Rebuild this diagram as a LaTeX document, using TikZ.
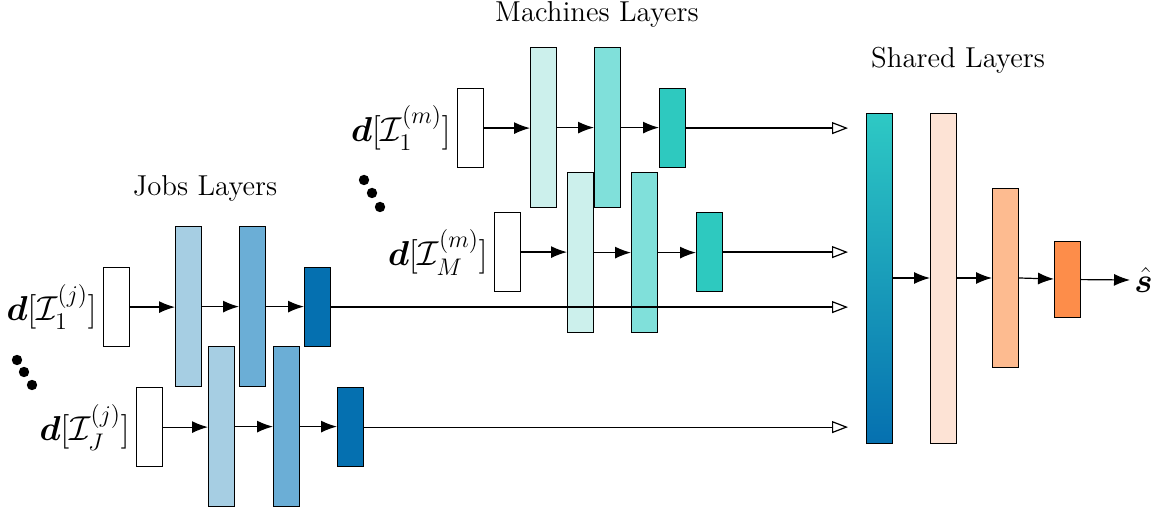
\documentclass[tikz,border=0pt]{standalone}
\usepackage{amsmath,bm}
\usetikzlibrary{arrows.meta}
\begin{document}
\begin{tikzpicture}[x=0.5pt,y=-0.5pt,
  box/.style={draw,line width=0.6pt,anchor=north west,inner sep=0,minimum width=13pt},
  ar/.style={-{Latex[length=8pt,width=6pt]},line width=0.6pt},
  oa/.style={-{Triangle[open,length=8pt,width=6pt]},line width=0.6pt},
  lab/.style={font=\LARGE,inner sep=3pt},
  ttl/.style={font=\Large}]
\useasboundingbox (0,0) rectangle (1154,512);
\definecolor{jA}{HTML}{A6CEE3}\definecolor{jB}{HTML}{6BAED6}\definecolor{jC}{HTML}{0570B0}
\definecolor{mA}{HTML}{CCF0EC}\definecolor{mB}{HTML}{80E0DA}\definecolor{mC}{HTML}{2EC9BF}
\definecolor{sT}{HTML}{2EC9C4}\definecolor{sB}{HTML}{0570B0}
\definecolor{sA}{HTML}{FDE3D5}\definecolor{sC}{HTML}{FDBB90}\definecolor{sD}{HTML}{FD8D4A}
\newcommand{\bx}[5]{\node[box,minimum height=#4*0.5pt,fill=#5] (#1) at (#2,#3) {};}
% jobs
\bx{ji1}{103}{267}{79}{white}\bx{ja1}{175}{226}{160}{jA}\bx{jb1}{239}{226}{160}{jB}\bx{jc1}{304}{267}{79}{jC}
\bx{jiJ}{136}{387}{79}{white}\bx{jaJ}{208}{346}{160}{jA}\bx{jbJ}{273}{346}{160}{jB}\bx{jcJ}{337}{387}{79}{jC}
% machines
\bx{mi1}{457}{88}{79}{white}\bx{ma1}{530}{47}{160}{mA}\bx{mb1}{594}{47}{160}{mB}\bx{mc1}{659}{88}{79}{mC}
\bx{miM}{494}{212}{79}{white}\bx{maM}{567}{172}{160}{mA}\bx{mbM}{631}{172}{160}{mB}\bx{mcM}{696}{212}{79}{mC}
% shared
\node[box,minimum height=165pt,top color=sT,bottom color=sB] (s1) at (866,113) {};
\bx{s2}{930}{113}{330}{sA}\bx{s3}{992}{188}{179}{sC}\bx{s4}{1054}{241}{76}{sD}
% layer arrows
\foreach \a/\b in {ji1/ja1,ja1/jb1,jb1/jc1,jiJ/jaJ,jaJ/jbJ,jbJ/jcJ,mi1/ma1,ma1/mb1,mb1/mc1,miM/maM,maM/mbM,mbM/mcM}
  \draw[ar] (\a.east) -- (\a.east -| \b.west);
\coordinate (ex) at (848,0);
\foreach \n in {mc1,mcM,jc1,jcJ}
  \draw[oa] (\n.east) -- (\n.east -| ex);
\draw[ar] (s1.east|-0,278) -- (s2.west|-0,278);
\draw[ar] (s2.east|-0,278) -- (s3.west|-0,278);
\draw[ar] (s3.east|-0,278) -- (s4.west|-0,279);
\node[lab,anchor=west,inner sep=2pt] (out) at (1130,280) {$\hat{\bm s}$};
\draw[ar] (s4.east) -- (out.west);
% labels
\node[lab,anchor=east] (l1) at (ji1.west) {$\bm d[\mathcal{I}_1^{(j)}]$};
\node[lab,anchor=east] (l2) at (jiJ.west) {$\bm d[\mathcal{I}_J^{(j)}]$};
\node[lab,anchor=east] (l3) at (mi1.west) {$\bm d[\mathcal{I}_1^{(m)}]$};
\node[lab,anchor=east] (l4) at (miM.west) {$\bm d[\mathcal{I}_M^{(m)}]$};
\node[ttl] (t1) at (205,188) {Jobs Layers};
\node[ttl] (t2) at (597,14) {Machines Layers};
\node[ttl] (t3) at (958,60) {Shared Layers};
\foreach \x/\y in {17/360,24/372,32/385,364/180,372/193,380/207}
  \fill (\x,\y) circle (2.6pt);
\end{tikzpicture}
\end{document}
